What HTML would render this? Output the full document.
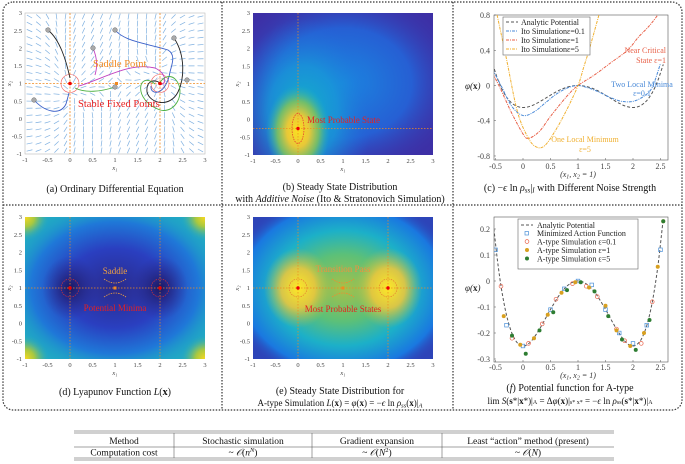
<!DOCTYPE html>
<html><head><meta charset="utf-8"><style>
html,body{margin:0;padding:0;background:#fff;}
svg{display:block;font-family:"Liberation Serif",serif;}
.tk{font-size:6.5px;fill:#444;}
.tk2{font-size:8px;fill:#444;}
.cap{font-size:10px;fill:#111;}
.lg{font-size:8px;fill:#222;}
</style></head><body>
<svg id="fig" width="685" height="464" viewBox="0 0 685 464" xmlns="http://www.w3.org/2000/svg">
<defs>
<radialGradient id="gbBlue" cx="0.5" cy="0.5" r="0.5"><stop offset="0" stop-color="#1a88e0"/><stop offset="0.55" stop-color="#2268dc" stop-opacity="0.85"/><stop offset="1" stop-color="#3d2fa5" stop-opacity="0"/></radialGradient>
<radialGradient id="gbCyan" cx="0.5" cy="0.5" r="0.5"><stop offset="0" stop-color="#12b4c6"/><stop offset="0.5" stop-color="#1898d8" stop-opacity="0.8"/><stop offset="1" stop-color="#2268dc" stop-opacity="0"/></radialGradient>
<radialGradient id="gbYel" cx="0.5" cy="0.5" r="0.5"><stop offset="0" stop-color="#fbe020"/><stop offset="0.35" stop-color="#e8c838"/><stop offset="0.65" stop-color="#7cc060" stop-opacity="0.9"/><stop offset="1" stop-color="#20b0c0" stop-opacity="0"/></radialGradient>
<radialGradient id="gdMid" cx="0.5" cy="0.5" r="0.5"><stop offset="0" stop-color="#2a2a8a"/><stop offset="0.45" stop-color="#2a3fc0"/><stop offset="0.75" stop-color="#1f78d8"/><stop offset="1" stop-color="#1aa0c8" stop-opacity="0"/></radialGradient>
<radialGradient id="gdMin" cx="0.5" cy="0.5" r="0.5"><stop offset="0" stop-color="#1c1860"/><stop offset="1" stop-color="#2a2a8a" stop-opacity="0"/></radialGradient>
<radialGradient id="gdCorner" cx="0.5" cy="0.5" r="0.5"><stop offset="0" stop-color="#f8d820"/><stop offset="0.4" stop-color="#a8c840"/><stop offset="1" stop-color="#30b0b0" stop-opacity="0"/></radialGradient>
<radialGradient id="geMid" cx="0.5" cy="0.5" r="0.5"><stop offset="0" stop-color="#a8c048"/><stop offset="0.35" stop-color="#5cc078"/><stop offset="0.6" stop-color="#1cb0c8"/><stop offset="0.85" stop-color="#1a78e0"/><stop offset="1" stop-color="#2d44b8" stop-opacity="0"/></radialGradient>
<radialGradient id="geMin" cx="0.5" cy="0.5" r="0.5"><stop offset="0" stop-color="#fde828"/><stop offset="0.5" stop-color="#f4c838" stop-opacity="0.85"/><stop offset="1" stop-color="#b0c048" stop-opacity="0"/></radialGradient>
<clipPath id="clipC"><rect x="494" y="15" width="174" height="145"/></clipPath>
<clipPath id="clipF"><rect x="494" y="217" width="174" height="145"/></clipPath>
<marker id="ah" viewBox="0 0 6 6" refX="3" refY="3" markerWidth="4" markerHeight="4" orient="auto"><path d="M0,0L6,3L0,6z" fill="context-stroke"/></marker>
</defs>

<rect x="3" y="2" width="679" height="408" rx="10" fill="none" stroke="#333" stroke-width="1.2" stroke-dasharray="1.5,1.5"/>
<line x1="222" y1="2" x2="222" y2="410" stroke="#333" stroke-width="1.2" stroke-dasharray="1.5,1.5"/>
<line x1="453" y1="2" x2="453" y2="410" stroke="#333" stroke-width="1.2" stroke-dasharray="1.5,1.5"/>
<line x1="3" y1="205" x2="682" y2="205" stroke="#333" stroke-width="1.2" stroke-dasharray="1.5,1.5"/>

<!-- PANEL A -->
<g id="panelA">
<rect x="25" y="13" width="180" height="141" fill="#fff" stroke="#bbb" stroke-width="0.6"/>
<g id="field"></g>
<line x1="70" y1="13" x2="70" y2="154" stroke="#f08a20" stroke-width="0.8" stroke-dasharray="2,1.5"/>
<line x1="160" y1="13" x2="160" y2="154" stroke="#f08a20" stroke-width="0.8" stroke-dasharray="2,1.5"/>
<line x1="25" y1="83.5" x2="205" y2="83.5" stroke="#f08a20" stroke-width="0.8" stroke-dasharray="2,1.5"/>
<circle cx="70" cy="83.5" r="9" fill="none" stroke="#f06060" stroke-width="0.6"/>
<circle cx="160" cy="83.5" r="9" fill="none" stroke="#f06060" stroke-width="0.6"/>
<circle cx="160" cy="83.5" r="5" fill="none" stroke="#f0a0a0" stroke-width="0.5"/>
<g fill="none" stroke-width="0.9">
<path d="M48,30 C60,40 66,60 70,78" stroke="#222"/>
<path d="M34,100 C45,112 60,116 66,104 L69,93" stroke="#3a5fc8"/>
<path d="M93,48 C98,60 97,68 95,75" stroke="#c040c0"/>
<path d="M79,86 C105,78 130,62 155,68 C168,74 166,86 160,84" stroke="#c040c0"/>
<path d="M115,30 C125,42 150,44 168,50 C176,55 172,64 170,72 C166,96 150,96 151,86" stroke="#3a5fc8"/>
<path d="M174,38 C186,56 184,80 178,92 C170,108 150,104 147,92 C146,80 155,79 160,83" stroke="#222"/>
<path d="M155,84 C138,70 132,100 160,110 C176,114 186,92 176,80 C170,73 162,78 160,83" stroke="#4cb040"/>
<path d="M115,87 C100,92 85,93 75,88" stroke="#4cb040"/>
</g>
<g fill="#aaa" stroke="#666" stroke-width="0.5">
<circle cx="48" cy="30" r="2.3"/><circle cx="34" cy="100" r="2.3"/><circle cx="93" cy="48" r="2.3"/><circle cx="115" cy="30" r="2.3"/><circle cx="174" cy="38" r="2.3"/><circle cx="187" cy="80" r="2.3"/><circle cx="115" cy="87" r="2.3"/>
</g>
<circle cx="70" cy="83.5" r="1.8" fill="#e00"/><circle cx="160" cy="83.5" r="1.8" fill="#e00"/><rect x="115" y="82" width="3" height="3" fill="#f08a20"/>
<text x="93" y="67" font-size="10.5" fill="#f08a20">Saddle Point</text>
<text x="78" y="107" font-size="10.5" fill="#e82020">Stable Fixed Points</text>
<text x="115" y="192" class="cap" text-anchor="middle">(a) Ordinary Differential Equation</text>
</g>

<!-- PANEL B -->
<g id="panelB">
<rect x="253" y="13" width="180" height="142" fill="#3d2fa5"/>
<svg x="253" y="13" width="180" height="142" overflow="hidden">
<ellipse cx="90" cy="70" rx="125" ry="100" fill="url(#gbBlue)"/>
<ellipse cx="50" cy="100" rx="70" ry="95" fill="url(#gbCyan)"/>
<ellipse cx="45" cy="118" rx="32" ry="46" fill="url(#gbYel)"/>
</svg>
<line x1="298" y1="13" x2="298" y2="155" stroke="#f08a20" stroke-width="0.7" stroke-dasharray="1.5,1.5"/>
<line x1="253" y1="128.5" x2="433" y2="128.5" stroke="#f08a20" stroke-width="0.7" stroke-dasharray="1.5,1.5"/>
<ellipse cx="298" cy="128.5" rx="6" ry="15" fill="none" stroke="#e83030" stroke-width="0.7" stroke-dasharray="1.5,1"/>
<circle cx="298" cy="128.5" r="1.7" fill="#e00"/>
<text x="307" y="123" font-size="9" fill="#e82020">Most Probable State</text>
<text x="340" y="190" class="cap" text-anchor="middle">(b) Steady State Distribution</text>
<text x="340" y="202" class="cap" text-anchor="middle">with <tspan font-style="italic">Additive Noise</tspan> (Ito &amp; Stratonovich Simulation)</text>
</g>

<!-- PANEL D -->
<g id="panelD">
<rect x="25" y="217" width="180" height="142" fill="#22a8c4"/>
<svg x="25" y="217" width="180" height="142" overflow="hidden">
<circle cx="0" cy="0" r="24" fill="url(#gdCorner)"/><circle cx="180" cy="0" r="24" fill="url(#gdCorner)"/>
<circle cx="0" cy="142" r="24" fill="url(#gdCorner)"/><circle cx="180" cy="142" r="24" fill="url(#gdCorner)"/>
<ellipse cx="90" cy="71" rx="112" ry="88" fill="url(#gdMid)"/>
<ellipse cx="45" cy="71" rx="28" ry="32" fill="url(#gdMin)"/>
<ellipse cx="135" cy="71" rx="28" ry="32" fill="url(#gdMin)"/>
</svg>
<line x1="70" y1="217" x2="70" y2="359" stroke="#f08a20" stroke-width="0.7" stroke-dasharray="1.5,1.5"/>
<line x1="160" y1="217" x2="160" y2="359" stroke="#f08a20" stroke-width="0.7" stroke-dasharray="1.5,1.5"/>
<line x1="25" y1="288" x2="205" y2="288" stroke="#f08a20" stroke-width="0.7" stroke-dasharray="1.5,1.5"/>
<circle cx="70" cy="288" r="9" fill="none" stroke="#e83030" stroke-width="0.6" stroke-dasharray="1.5,1"/>
<circle cx="160" cy="288" r="9" fill="none" stroke="#e83030" stroke-width="0.6" stroke-dasharray="1.5,1"/>
<path d="M104,279 Q115,287 126,279 M104,297 Q115,289 126,297" fill="none" stroke="#f0a040" stroke-width="0.8" stroke-dasharray="1.5,1"/>
<circle cx="70" cy="288" r="1.7" fill="#e00"/><circle cx="160" cy="288" r="1.7" fill="#e00"/><rect x="113.5" y="286.5" width="3" height="3" fill="#f08a20"/>
<text x="115" y="274" font-size="9" fill="#f0a040" text-anchor="middle">Saddle</text>
<text x="115" y="311" font-size="9" fill="#e82020" text-anchor="middle">Potential Minima</text>
<text x="115" y="395" class="cap" text-anchor="middle">(d) Lyapunov Function <tspan font-style="italic">L</tspan>(<tspan font-weight="bold">x</tspan>)</text>
</g>

<!-- PANEL E -->
<g id="panelE">
<rect x="253" y="217" width="180" height="142" fill="#2d44b8"/>
<svg x="253" y="217" width="180" height="142" overflow="hidden">
<ellipse cx="90" cy="71" rx="118" ry="96" fill="url(#geMid)"/>
<ellipse cx="45" cy="71" rx="34" ry="40" fill="url(#geMin)"/>
<ellipse cx="135" cy="71" rx="34" ry="40" fill="url(#geMin)"/>
</svg>
<line x1="298" y1="217" x2="298" y2="359" stroke="#f08a20" stroke-width="0.7" stroke-dasharray="1.5,1.5"/>
<line x1="388" y1="217" x2="388" y2="359" stroke="#f08a20" stroke-width="0.7" stroke-dasharray="1.5,1.5"/>
<line x1="253" y1="288" x2="433" y2="288" stroke="#f08a20" stroke-width="0.7" stroke-dasharray="1.5,1.5"/>
<circle cx="298" cy="288" r="9" fill="none" stroke="#e87030" stroke-width="0.6" stroke-dasharray="1.5,1"/>
<circle cx="388" cy="288" r="9" fill="none" stroke="#e87030" stroke-width="0.6" stroke-dasharray="1.5,1"/>
<path d="M332,279 Q343,287 354,279 M332,297 Q343,289 354,297" fill="none" stroke="#f08a30" stroke-width="0.8" stroke-dasharray="1.5,1"/>
<circle cx="298" cy="288" r="1.7" fill="#e00"/><circle cx="388" cy="288" r="1.7" fill="#e00"/><rect x="341.5" y="286.5" width="3" height="3" fill="#f08a20"/>
<text x="343" y="272" font-size="9" fill="#f09040" text-anchor="middle">Transition Pass</text>
<text x="343" y="312" font-size="9" fill="#e82020" text-anchor="middle">Most Probable States</text>
<text x="340" y="394" class="cap" text-anchor="middle">(e) Steady State Distribution for</text>
<text x="340" y="406" font-size="9" fill="#111" text-anchor="middle">A-type Simulation  <tspan font-style="italic">L</tspan>(<tspan font-weight="bold">x</tspan>) = <tspan font-style="italic">φ</tspan>(<tspan font-weight="bold">x</tspan>) = −<tspan font-style="italic">ϵ</tspan> ln <tspan font-style="italic">ρ<tspan font-size="6.5" dy="1.5">ss</tspan></tspan><tspan dy="-1.5">(</tspan><tspan font-weight="bold">x</tspan>)|<tspan font-size="6.5" font-style="italic" dy="1.5">A</tspan></text>
</g>

<g id="heatTicks"></g>

<!-- PANEL C -->
<g id="panelC">
<rect x="494" y="15" width="174" height="145" fill="#fff" stroke="#555" stroke-width="0.6"/>
<g id="cTicks"></g>
<g id="cLines" clip-path="url(#clipC)"></g>
<text x="465" y="89" font-size="9" font-style="italic" fill="#222">φ(<tspan font-weight="bold" font-style="normal">x</tspan>)</text>
<text x="578" y="177" font-size="8" font-style="italic" fill="#333" text-anchor="middle">(x<tspan font-size="6" dy="1.5">1</tspan><tspan dy="-1.5">, x</tspan><tspan font-size="6" dy="1.5">2</tspan><tspan dy="-1.5"> = 1)</tspan></text>
<text x="570" y="191" class="cap" text-anchor="middle">(c) −<tspan font-style="italic">ϵ</tspan> ln <tspan font-style="italic">ρ<tspan font-size="7" dy="1.5">ss</tspan></tspan><tspan dy="-1.5">|</tspan><tspan font-size="7" font-style="italic" dy="1.5">I</tspan><tspan dy="-1.5"> with Different Noise Strength</tspan></text>
<text x="666" y="53" font-size="8" fill="#e8624a" text-anchor="end">Near Critical</text>
<text x="666" y="63" font-size="8" fill="#e8624a" text-anchor="end">State  ε=1</text>
<text x="642" y="87" font-size="8" fill="#4a8ad8" text-anchor="middle">Two Local Minima</text>
<text x="642" y="96" font-size="8" fill="#4a8ad8" text-anchor="middle">ε=0.1</text>
<text x="585" y="142" font-size="8" fill="#f0b030" text-anchor="middle">One Local Minimum</text>
<text x="585" y="152" font-size="8" fill="#f0b030" text-anchor="middle">ε=5</text>
<g>
<rect x="503" y="17" width="87" height="38" fill="#fff" stroke="#666" stroke-width="0.6"/>
<line x1="506" y1="22" x2="518" y2="22" stroke="#555" stroke-width="1" stroke-dasharray="3,2"/><text x="521" y="25" class="lg">Analytic Potential</text>
<line x1="506" y1="31" x2="518" y2="31" stroke="#4a8ad8" stroke-width="1" stroke-dasharray="3,1,1,1"/><text x="521" y="34" class="lg">Ito Simulationε=0.1</text>
<line x1="506" y1="40" x2="518" y2="40" stroke="#e8624a" stroke-width="1" stroke-dasharray="3,1,1,1"/><text x="521" y="43" class="lg">Ito Simulationε=1</text>
<line x1="506" y1="49" x2="518" y2="49" stroke="#f0b030" stroke-width="1" stroke-dasharray="3,1,1,1"/><text x="521" y="52" class="lg">Ito Simulationε=5</text>
</g>
</g>

<!-- PANEL F -->
<g id="panelF">
<rect x="494" y="217" width="174" height="145" fill="#fff" stroke="#555" stroke-width="0.6"/>
<g id="fTicks"></g>
<g id="fLines" clip-path="url(#clipF)"></g>
<text x="465" y="291" font-size="9" font-style="italic" fill="#222">φ(<tspan font-weight="bold" font-style="normal">x</tspan>)</text>
<text x="578" y="378" font-size="8" font-style="italic" fill="#333" text-anchor="middle">(x<tspan font-size="6" dy="1.5">1</tspan><tspan dy="-1.5">, x</tspan><tspan font-size="6" dy="1.5">2</tspan><tspan dy="-1.5"> = 1)</tspan></text>
<text x="570" y="391" class="cap" text-anchor="middle">(<tspan font-style="italic">f</tspan>) Potential function for A-type</text>
<text x="570" y="404" font-size="9" fill="#111" text-anchor="middle">lim <tspan font-style="italic">S</tspan>(<tspan font-weight="bold">s</tspan>*|<tspan font-weight="bold">x</tspan>*)|<tspan font-size="6">A</tspan> = Δ<tspan font-style="italic">φ</tspan>(<tspan font-weight="bold">x</tspan>)|<tspan font-size="6">s* x*</tspan> = −<tspan font-style="italic">ϵ</tspan> ln <tspan font-style="italic">ρ</tspan><tspan font-size="6">ss</tspan>(<tspan font-weight="bold">s</tspan>*|<tspan font-weight="bold">x</tspan>*)|<tspan font-size="6">A</tspan></text>
<g>
<rect x="518" y="219" width="120" height="50" fill="#fff" stroke="#666" stroke-width="0.6"/>
<line x1="521" y1="225" x2="533" y2="225" stroke="#555" stroke-width="1" stroke-dasharray="3,2"/><text x="537" y="228" class="lg">Analytic Potential</text>
<rect x="525" y="231.5" width="3.5" height="3.5" fill="none" stroke="#4a90d8" stroke-width="0.7"/><text x="537" y="236" class="lg">Minimized Action Function</text>
<circle cx="527" cy="241.5" r="1.9" fill="none" stroke="#e8624a" stroke-width="0.7"/><text x="537" y="244.5" class="lg">A-type Simulation ε=0.1</text>
<circle cx="527" cy="250" r="2" fill="#d8a020"/><text x="537" y="253" class="lg">A-type Simulation ε=1</text>
<circle cx="527" cy="258.5" r="2" fill="#2e7d32"/><text x="537" y="261.5" class="lg">A-type Simulation ε=5</text>
</g>
</g>

<!-- TABLE -->
<g id="table" font-size="9.5" fill="#111">
<g stroke="#444" stroke-width="0.5">
<line x1="74" y1="431" x2="614" y2="431"/>
<line x1="74" y1="433" x2="614" y2="433"/>
<line x1="74" y1="447" x2="614" y2="447"/>
<line x1="74" y1="458" x2="614" y2="458"/>
<line x1="74" y1="460" x2="614" y2="460"/>
<line x1="174" y1="433" x2="174" y2="458"/>
<line x1="312" y1="433" x2="312" y2="458"/>
<line x1="442" y1="433" x2="442" y2="458"/>
</g>
<text x="124" y="444" text-anchor="middle">Method</text>
<text x="243" y="444" text-anchor="middle">Stochastic simulation</text>
<text x="377" y="444" text-anchor="middle">Gradient expansion</text>
<text x="528" y="444" text-anchor="middle">Least “action” method (present)</text>
<text x="124" y="455.5" text-anchor="middle">Computation cost</text>
<text x="243" y="455.5" text-anchor="middle">~ <tspan font-style="italic">𝒪</tspan>(<tspan font-style="italic">n</tspan><tspan font-size="6.5" dy="-3.5" font-style="italic">N</tspan><tspan dy="3.5">)</tspan></text>
<text x="377" y="455.5" text-anchor="middle">~ <tspan font-style="italic">𝒪</tspan>(<tspan font-style="italic">N</tspan><tspan font-size="6.5" dy="-3.5">2</tspan><tspan dy="3.5">)</tspan></text>
<text x="528" y="455.5" text-anchor="middle">~ <tspan font-style="italic">𝒪</tspan>(<tspan font-style="italic">N</tspan>)</text>
</g>
</svg>

<script>
const potX = [-0.55,-0.45,-0.35,-0.25,-0.15,-0.05,0.05,0.15,0.25,0.35,0.45,0.55,0.65,0.75,0.85,0.95,1.05,1.15,1.25,1.35,1.45,1.55,1.65,1.75,1.85,1.95,2.05,2.15,2.25,2.35,2.45,2.55];
const potY = [0.24,0.054,-0.081,-0.171,-0.224,-0.247,-0.248,-0.231,-0.202,-0.167,-0.128,-0.091,-0.057,-0.030,-0.011,-0.001,-0.001,-0.011,-0.030,-0.057,-0.091,-0.128,-0.167,-0.202,-0.231,-0.248,-0.247,-0.224,-0.171,-0.081,0.054,0.24];
const itoLowX = [-0.55,-0.4,-0.2,0,0.2,0.4,0.6,0.8,1.0,1.2,1.4,1.6,1.8,2.0,2.2,2.35,2.5];
const itoLowY = [0.18,0.0,-0.24,-0.34,-0.3,-0.2,-0.1,-0.03,0.0,-0.03,-0.08,-0.14,-0.18,-0.18,-0.12,-0.02,0.25];
const itoMidX = [-0.55,-0.4,-0.2,0,0.1,0.3,0.5,0.8,1.0,1.3,1.6,1.9,2.1,2.3,2.45];
const itoMidY = [0.14,-0.05,-0.32,-0.55,-0.6,-0.52,-0.35,-0.12,0.0,0.12,0.26,0.4,0.55,0.68,0.8];
const itoHighX = [-0.47,-0.3,-0.1,0.1,0.25,0.4,0.6,0.8,1.0,1.1,1.2,1.3,1.38];
const itoHighY = [0.8,0.3,-0.3,-0.6,-0.7,-0.68,-0.5,-0.27,0.0,0.2,0.4,0.62,0.8];
const actX = [-0.5,-0.3,0.0,0.5,0.75,1.0,1.25,1.5,1.75,2.0,2.25,2.5];
const actY = [0.12,-0.17,-0.25,-0.11,-0.03,0.0,-0.015,-0.11,-0.2,-0.24,-0.17,0.12];
const simLowX = [-0.4,-0.2,0.1,0.35,0.6,0.9,1.15,1.35,1.7,1.85,2.15,2.35];
const simLowY = [-0.02,-0.22,-0.24,-0.165,-0.07,-0.01,-0.02,-0.06,-0.185,-0.23,-0.24,-0.08];
const simMidX = [-0.35,-0.05,0.2,0.45,0.7,0.95,1.2,1.5,1.7,1.95,2.2,2.45,2.55];
const simMidY = [-0.135,-0.245,-0.22,-0.13,-0.045,-0.005,-0.025,-0.095,-0.19,-0.25,-0.2,0.055,0.23];
const simHighX = [-0.2,0.05,0.3,0.55,0.8,1.05,1.3,1.55,1.8,2.05,2.3,2.55];
const simHighY = [-0.21,-0.28,-0.19,-0.12,-0.035,-0.005,-0.04,-0.135,-0.225,-0.265,-0.15,0.23];
const xTicks = [-0.5,0,0.5,1,1.5,2,2.5];
const xTickLabels = ["-0.5","0","0.5","1","1.5","2","2.5"];
const cYTicks = [0.8,0.4,0,-0.4,-0.8];
const cYTickLabels = ["0.8","0.4","0","-0.4","-0.8"];
const fYTicks = [0.2,0.1,0,-0.1,-0.2,-0.3];
const fYTickLabels = ["0.2","0.1","0","-0.1","-0.2","-0.3"];
const heatTicks = [-1,-0.5,0,0.5,1,1.5,2,2.5,3];
const heatTickLabels = ["-1","-0.5","0","0.5","1","1.5","2","2.5","3"];

const NS = "http://www.w3.org/2000/svg";
function mk(tag, attrs, parent){ const e=document.createElementNS(NS,tag); for(const k in attrs) e.setAttribute(k,attrs[k]); parent.appendChild(e); return e; }
const sx = v => 578 + (v-1)*55;
const cy = v => 85.5 - v*88.1;
const fy = v => 281 - v*260;

function smooth(xs, ys, yf, color, dash, parent, name){
  const P = xs.map((x,i)=>[sx(x), yf(ys[i])]);
  let d = 'M'+P[0][0].toFixed(1)+','+P[0][1].toFixed(1);
  for(let i=0;i<P.length-1;i++){
    const p0=P[Math.max(0,i-1)],p1=P[i],p2=P[i+1],p3=P[Math.min(P.length-1,i+2)];
    d += ' C'+(p1[0]+(p2[0]-p0[0])/6).toFixed(1)+','+(p1[1]+(p2[1]-p0[1])/6).toFixed(1)+' '+(p2[0]-(p3[0]-p1[0])/6).toFixed(1)+','+(p2[1]-(p3[1]-p1[1])/6).toFixed(1)+' '+p2[0].toFixed(1)+','+p2[1].toFixed(1);
  }
  const p = mk('path',{d:d,fill:'none',stroke:color,'stroke-width':1,'stroke-dasharray':dash},parent);
  
  
}

const cL = document.getElementById('cLines');
smooth(potX, potY, cy, '#555', '3,2', cL, 'analytic-potential-line');
smooth(itoLowX, itoLowY, cy, '#4a8ad8', '3,1,1,1', cL, 'ito-eps-0.1-line');
smooth(itoMidX, itoMidY, cy, '#e8624a', '3,1,1,1', cL, 'ito-eps-1-line');
smooth(itoHighX, itoHighY, cy, '#f0b030', '3,1,1,1', cL, 'ito-eps-5-line');
const cT = document.getElementById('cTicks');
xTicks.forEach((v,i)=>{
  const t = mk('text',{x:sx(v),y:169,'text-anchor':'middle',class:'tk2'},cT); t.textContent = xTickLabels[i];
  
  
  mk('line',{x1:sx(v),x2:sx(v),y1:160,y2:158,stroke:'#555','stroke-width':0.5},cT);
});
cYTicks.forEach((v,i)=>{
  const t = mk('text',{x:490,y:cy(v)+3,'text-anchor':'end',class:'tk2'},cT); t.textContent = cYTickLabels[i];
  
  
  mk('line',{x1:494,x2:496,y1:cy(v),y2:cy(v),stroke:'#555','stroke-width':0.5},cT);
});

const fL = document.getElementById('fLines');
smooth(potX, potY, fy, '#555', '3,2', fL, 'analytic-potential-line-f');
actX.forEach((x,i)=>{
  const r = mk('rect',{x:sx(x)-1.8,y:fy(actY[i])-1.8,width:3.6,height:3.6,fill:'none',stroke:'#4a90d8','stroke-width':0.7},fL);
  
  
});
simLowX.forEach((x,i)=>{
  const c = mk('circle',{cx:sx(x),cy:fy(simLowY[i]),r:1.9,fill:'none',stroke:'#e8624a','stroke-width':0.7},fL);
  
  
});
simMidX.forEach((x,i)=>{
  const c = mk('circle',{cx:sx(x),cy:fy(simMidY[i]),r:2,fill:'#d8a020'},fL);
  
  
});
simHighX.forEach((x,i)=>{
  const c = mk('circle',{cx:sx(x),cy:fy(simHighY[i]),r:2,fill:'#2e7d32'},fL);
  
  
});
const fT = document.getElementById('fTicks');
xTicks.forEach((v,i)=>{
  const t = mk('text',{x:sx(v),y:370,'text-anchor':'middle',class:'tk2'},fT); t.textContent = xTickLabels[i];
  
  
  mk('line',{x1:sx(v),x2:sx(v),y1:362,y2:360,stroke:'#555','stroke-width':0.5},fT);
});
fYTicks.forEach((v,i)=>{
  const t = mk('text',{x:490,y:fy(v)+3,'text-anchor':'end',class:'tk2'},fT); t.textContent = fYTickLabels[i];
  
  
  mk('line',{x1:494,x2:496,y1:fy(v),y2:fy(v),stroke:'#555','stroke-width':0.5},fT);
});

const hT = document.getElementById('heatTicks');
const panels = [[25,13,154,'a'],[253,13,155,'b'],[25,217,359,'d'],[253,217,359,'e']];
panels.forEach(p=>{
  const [x0,y0,y1,n] = p;
  heatTicks.forEach((v,i)=>{
    const px = x0 + (v+1)*45, py = y0 + (3-v)*(y1-y0)/4;
    const a = mk('text',{x:px,y:y1+8,'text-anchor':'middle',class:'tk'},hT); a.textContent = heatTickLabels[i];
    
    
    const b = mk('text',{x:x0-3,y:py+2.2,'text-anchor':'end',class:'tk'},hT); b.textContent = heatTickLabels[i];
    
    
  });
  const xl = mk('text',{x:x0+90,y:y1+16,'text-anchor':'middle',class:'tk','font-style':'italic'},hT); xl.textContent='x₁';
  
  
  const yl = mk('text',{x:x0-14,y:(y0+y1)/2,'text-anchor':'middle',class:'tk','font-style':'italic',transform:'rotate(-90 '+(x0-14)+' '+((y0+y1)/2)+')'},hT); yl.textContent='x₂';
  
  
});

const fg = document.getElementById('field');
for(let gx=-0.9; gx<3; gx+=0.2){
  for(let gy=-0.9; gy<3; gy+=0.2){
    const u = gx-1, w = gy-1;
    let dx = -(u*u*u-u) - 0.3*w, dy = -w + 0.3*u;
    const m = Math.hypot(dx,dy)||1; dx/=m; dy/=m;
    const px = 25+(gx+1)*45, py = 13+(3-gy)*35.25;
    const ln = mk('line',{x1:px-dx*3,y1:py+dy*3,x2:px+dx*3,y2:py-dy*3,stroke:'#7fb0e0','stroke-width':0.7},fg);
    
    
  }
}
</script>
</body></html>
